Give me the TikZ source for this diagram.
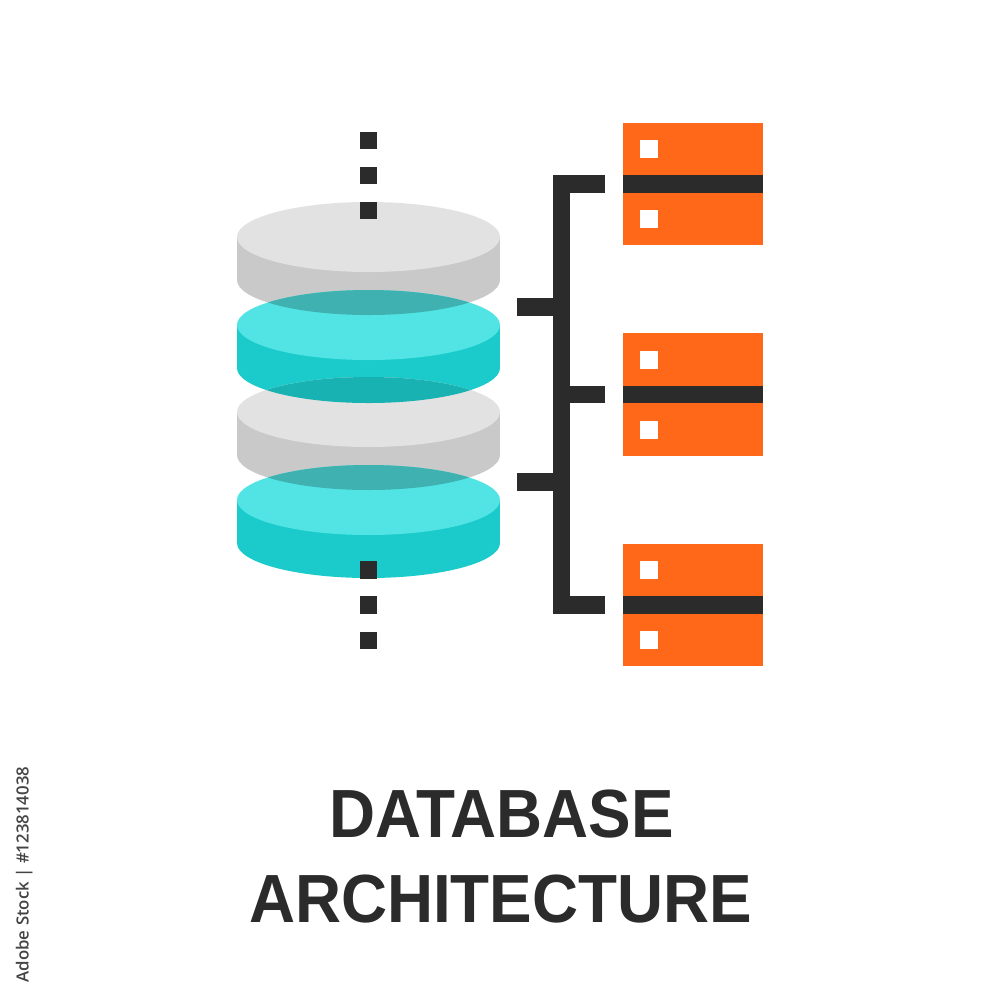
\documentclass[tikz,border=0pt]{standalone}
\usepackage{fontspec}
\newfontfamily\titlefont[FakeStretch=0.935]{Liberation Sans Bold}
\newfontfamily\stockfont{Open Sans Semibold}
\usetikzlibrary{calc}
\usetikzlibrary{positioning}
\definecolor{inkdark}{HTML}{2B2B2B}
\definecolor{stockgray}{HTML}{444444}
\definecolor{grayface}{HTML}{E2E2E2}
\definecolor{grayside}{HTML}{C9C9C9}
\definecolor{tealface}{HTML}{52E4E4}
\definecolor{tealside}{HTML}{1BCBCB}
\definecolor{lensgray}{HTML}{3FB1B1}
\definecolor{lensteal}{HTML}{18B2B2}
\definecolor{serverfill}{HTML}{FF6819}
\newcommand{\discface}[1]{(368.5,#1) ellipse[x radius=131.5,y radius=35]}

\begin{document}
\begin{tikzpicture}[
	x=0.1mm, y=-0.1mm,
	dot/.style = {fill=inkdark,inner sep=0pt,minimum size=1.76mm},
	server/.style = {fill=serverfill,inner sep=0pt,minimum width=14mm,minimum height=12.27mm},
	serverbar/.style = {fill=inkdark,inner sep=0pt,minimum width=14mm,minimum height=1.76mm},
	light/.style = {fill=white,inner sep=0pt,minimum size=1.8mm},
	link/.style = {draw=inkdark,line width=1.76mm},
	title/.style = {text=inkdark,inner sep=0pt,font=\titlefont\fontsize{19.4}{23}\selectfont}
  ]
	\useasboundingbox (0,0) rectangle (1000,1000);
	\fill[white] (0,0) rectangle (1000,1000);

	% discs, top to bottom
	\fill[grayside] (237,237) rectangle (500,280);
	\fill[grayside] \discface{280};
	\fill[grayface] \discface{237};

	\fill[tealside] (237,325) rectangle (500,368);
	\fill[tealside] \discface{368};
	\fill[tealface] \discface{325};
	\begin{scope}
		\clip \discface{280};
		\clip \discface{325};
		\fill[lensgray] (237,285) rectangle (500,320);
	\end{scope}

	\fill[grayside] (237,412) rectangle (500,455);
	\fill[grayside] \discface{455};
	\fill[grayface] \discface{412};
	\begin{scope}
		\clip \discface{368};
		\clip \discface{412};
		\fill[lensteal] (237,370) rectangle (500,410);
	\end{scope}

	\fill[tealside] (237,500) rectangle (500,543);
	\fill[tealside] \discface{543};
	\fill[tealface] \discface{500};
	\begin{scope}
		\clip \discface{455};
		\clip \discface{500};
		\fill[lensgray] (237,460) rectangle (500,495);
	\end{scope}

	% dotted axis
	\node[dot] (top1) at (368.5,140.5) {};
	\node[dot] (top2) at (368.5,175.5) {};
	\node[dot] (top3) at (368.5,210.5) {};
	\node[dot] (bot1) at (368.5,570) {};
	\node[dot] (bot2) at (368.5,605) {};
	\node[dot] (bot3) at (368.5,640.5) {};

	% servers
	\foreach \i/\y in {a/184, b/394.5, c/605}{
		\node[server] (server\i) at (693,\y) {};
		\node[serverbar] (bar\i) at (server\i) {};
		\node[light] (light\i1) at ($(server\i)+(-44,-35)$) {};
		\node[light] (light\i2) at ($(server\i)+(-44,35)$) {};
	}

	% bracket
	\coordinate (@1) at (605.3,184);
	\coordinate (@2) at (561.5,184);
	\coordinate (@3) at (561.5,605);
	\coordinate (@4) at (605.3,605);
	\coordinate (@5) at (605.3,394.5);
	\coordinate (@6) at (561.5,394.5);
	\coordinate (@7) at (517.3,307);
	\coordinate (@8) at (561.5,307);
	\coordinate (@9) at (517.3,482);
	\coordinate (@10) at (561.5,482);

	\draw[link] (@1) -- (@2) -- (@3) -- (@4);
	\draw[link] (@5) -- (@6);
	\draw[link] (@7) -- (@8);
	\draw[link] (@9) -- (@10);

	% caption
	\node[title] (line1) at (501.5,814) {DATABASE};
	\node[title] (line2) at (500.5,899) {ARCHITECTURE};
	\node[rotate=90,anchor=base west,inner sep=0pt,text=stockgray,font=\stockfont\fontsize{4.78}{6}\selectfont] (stock) at (28.5,983) {Adobe Stock | \#123814038};
\end{tikzpicture}
\end{document}
